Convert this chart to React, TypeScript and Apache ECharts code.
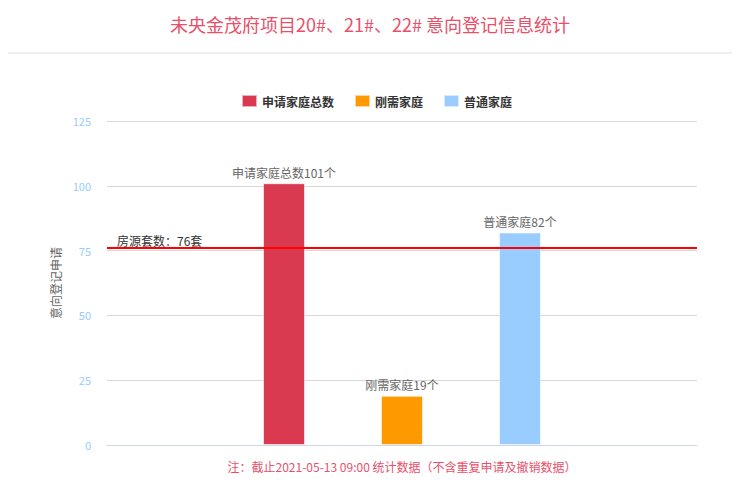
import React, { useEffect, useRef } from "react";
import * as echarts from "echarts";

// five slots on the x axis, bars sit in the middle three
const categories = ["", "申请家庭总数", "刚需家庭", "普通家庭", ""];
const seriesNames = ["申请家庭总数", "刚需家庭", "普通家庭"];
const seriesValues = [101, 19, 82];
const seriesColors = ["#d93a50", "#ff9900", "#99ccff"];
const houseCount = 76;
const yTicks = [0, 25, 50, 75, 100, 125];

const App: React.FC = () => {
  const chartRef = useRef<HTMLDivElement>(null);

  useEffect(() => {
    if (!chartRef.current) return;
    const chart = echarts.init(chartRef.current, undefined, { renderer: "svg" });

    const series: any[] = seriesNames.map((name, i) => {
      const data = categories.map((_, j) => (j === i + 1 ? seriesValues[i] : null));
      return {
        name,
        type: "bar",
        data,
        barWidth: 42,
        barGap: "-100%",
        itemStyle: { color: seriesColors[i], borderColor: "rgba(255,255,255,0.6)", borderWidth: 1 },
        label: {
          show: true,
          position: "top",
          color: "#666",
          fontSize: 12,
          formatter: (p: any) => `${name}${p.value}个`,
        },
        markLine:
          i === 0
            ? {
                symbol: "none",
                silent: true,
                lineStyle: { color: "#ff0000", width: 2, type: "solid" },
                label: {
                  position: "insideStartTop",
                  formatter: `房源套数：${houseCount}套`,
                  color: "#333",
                  fontSize: 12,
                  distance: [10, 2],
                },
                data: [{ yAxis: houseCount }],
              }
            : undefined,
      };
    });

    chart.setOption({
      animation: false,
      textStyle: { fontFamily: "'Noto Sans CJK SC', 'Open Sans', sans-serif" },
      title: {
        text: "未央金茂府项目20#、21#、22# 意向登记信息统计",
        left: "center",
        top: 2,
        textStyle: { color: "#e8506a", fontSize: 18, fontWeight: "normal" },
      },
      graphic: [
        {
          type: "line",
          shape: { x1: 0, y1: 45, x2: 724, y2: 45 },
          style: { stroke: "#e0e0e0", lineWidth: 1 },
        },
      ],
      legend: {
        data: seriesNames,
        left: 228,
        top: 81,
        itemWidth: 15,
        itemHeight: 12,
        itemGap: 20,
        icon: "rect",
        textStyle: { color: "#333", fontSize: 12, fontWeight: "bold" },
      },
      grid: { left: 99, right: 35, top: 113, bottom: 50 },
      xAxis: {
        type: "category",
        data: categories,
        name: "注：截止2021-05-13 09:00 统计数据（不含重复申请及撤销数据）",
        nameLocation: "middle",
        nameGap: 15,
        nameTextStyle: { color: "#e8506a", fontSize: 12 },
        axisLine: { lineStyle: { color: "#ccd6eb" } },
        axisTick: { show: false },
        axisLabel: { show: false },
      },
      yAxis: {
        type: "value",
        min: yTicks[0],
        max: yTicks[yTicks.length - 1],
        interval: 25,
        name: "意向登记申请",
        nameLocation: "middle",
        nameGap: 40,
        nameRotate: 90,
        nameTextStyle: { color: "#666", fontSize: 12 },
        axisLine: { show: false },
        axisTick: { show: false },
        axisLabel: { color: "#99ccff", fontSize: 11, margin: 16 },
        splitLine: { lineStyle: { color: "#d8d8d8" } },
      },
      series,
    });

    return () => {
      chart.dispose();
    };
  }, []);

  return <div ref={chartRef} style={{ width: "724px", height: "487px" }}></div>;
};

export default App;
